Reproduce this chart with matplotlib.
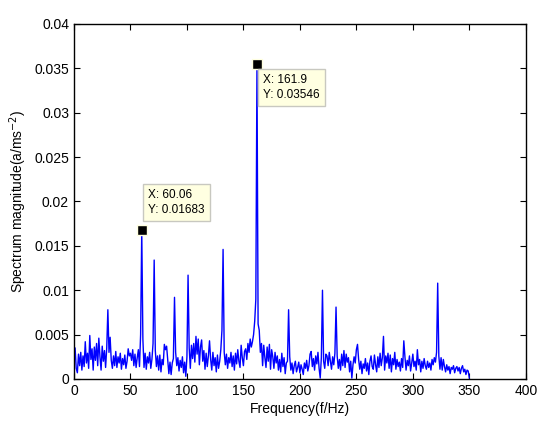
import numpy as np
import matplotlib
matplotlib.use('Agg')
import matplotlib.pyplot as plt

plt.rcParams['font.family'] = ['Liberation Sans', 'DejaVu Sans']

# spectrum magnitude, one value per Hz from 0 to 350 (units of 1e-3)
mag_milli = [
    2.0, 3.5, 1.2, 0.7, 2.8, 1.5, 3.0, 1.0, 2.6, 1.4,
    4.2, 1.8, 2.9, 1.2, 4.9, 2.2, 3.4, 1.0, 3.6, 2.1,
    4.0, 1.5, 4.6, 2.5, 1.0, 3.7, 2.0, 3.2, 1.3, 3.5,
    7.8, 3.0, 4.7, 2.1, 1.2, 2.6, 1.5, 3.1, 1.3, 2.5,
    1.8, 2.9, 1.1, 2.3, 1.6, 2.7, 1.2, 2.0, 3.4, 2.6,
    2.9, 2.1, 3.3, 1.5, 2.8, 1.3, 2.4, 3.3, 1.4, 5.0,
    16.8, 4.5, 1.3, 2.9, 1.1, 2.5, 1.8, 3.0, 1.2, 2.2,
    4.0, 13.4, 3.2, 1.4, 2.6, 1.0, 2.7, 0.8, 2.2, 1.6,
    3.9, 3.3, 3.7, 2.1, 0.6, 1.9, 0.5, 1.8, 2.3, 9.2,
    3.0, 1.5, 2.4, 0.9, 2.1, 1.3, 2.5, 0.7, 1.9, 0.3,
    2.5, 11.7, 3.5, 1.2, 3.8, 2.3, 4.0, 1.9, 4.8, 2.8,
    4.5, 1.6, 3.6, 4.4, 2.0, 3.2, 1.1, 2.9, 1.4, 2.6,
    4.3, 2.2, 1.0, 3.0, 1.5, 2.4, 0.8, 2.7, 1.2, 2.0,
    3.3, 5.5, 14.6, 3.0, 1.6, 2.8, 1.2, 2.4, 1.8, 3.0,
    1.4, 2.6, 1.0, 2.9, 1.7, 3.3, 2.0, 1.3, 3.8, 2.4,
    1.5, 3.1, 3.4, 2.2, 4.0, 3.0, 4.5, 3.6, 4.2, 5.0,
    6.5, 9.0, 35.46, 6.2, 5.5, 3.0, 4.0, 1.5, 3.8, 2.4,
    1.3, 3.6, 2.0, 3.9, 1.1, 3.3, 2.5, 1.2, 3.0, 1.8,
    2.6, 1.0, 2.2, 0.8, 2.9, 1.4, 2.4, 0.6, 1.8, 2.0,
    7.8, 2.5, 1.0, 1.8, 0.6, 1.5, 2.0, 0.8, 1.3, 1.9,
    0.7, 1.6, 1.1, 0.5, 1.8, 1.2, 2.1, 0.9, 1.5, 2.8,
    3.1, 1.4, 2.3, 1.0, 2.6, 1.7, 3.0, 1.2, 0.1, 2.4,
    10.0, 2.0, 1.2, 2.8, 2.6, 1.5, 3.0, 2.0, 1.1, 2.5,
    1.6, 2.9, 8.1, 2.6, 1.2, 2.2, 1.0, 2.8, 1.5, 3.2,
    1.3, 2.8, 1.9, 2.4, 0.8, 2.0, 0.1, 1.6, 2.5, 1.8,
    3.3, 3.9, 2.2, 1.1, 2.0, 0.6, 1.7, 1.2, 2.3, 0.9,
    1.8, 0.5, 2.0, 2.6, 1.4, 1.1, 2.7, 1.6, 0.8, 2.5,
    1.3, 2.9, 1.5, 2.4, 4.8, 1.0, 2.6, 1.8, 2.9, 1.2,
    2.7, 0.8, 2.3, 1.6, 3.0, 1.1, 2.2, 1.4, 1.9, 0.9,
    2.3, 1.3, 4.3, 2.5, 1.0, 2.1, 1.5, 2.6, 0.9, 1.8,
    2.8, 1.4, 2.0, 1.0, 3.3, 1.6, 2.2, 0.8, 2.0, 1.2,
    2.3, 1.5, 1.1, 2.0, 1.3, 1.8, 1.0, 2.2, 1.6, 2.4,
    1.9, 3.0, 10.8, 2.6, 1.1, 2.4, 1.0, 2.2, 1.4, 0.8,
    1.6, 1.0, 1.4, 0.6, 1.3, 1.1, 1.5, 0.7, 1.2, 1.4,
    0.9, 1.3, 0.6, 1.2, 1.5, 0.8, 1.1, 0.5, 1.0, 0.9,
    0.1,
]
freq = np.arange(len(mag_milli))
mag = np.array(mag_milli) / 1000.0

# data tips
tip_x = [60.06, 161.9]
tip_y = [0.01683, 0.03546]
tip_labels = ['X: 60.06\nY: 0.01683', 'X: 161.9\nY: 0.03546']
tip_offsets = [(6, 14), (6, -10)]
tip_va = ['bottom', 'top']

x_ticks = [0, 50, 100, 150, 200, 250, 300, 350, 400]
y_ticks = [0, 0.005, 0.01, 0.015, 0.02, 0.025, 0.03, 0.035, 0.04]
y_tick_labels = ['0', '0.005', '0.01', '0.015', '0.02', '0.025', '0.03', '0.035', '0.04']

fig = plt.figure(figsize=(5.5, 4.29), dpi=100)
ax = fig.add_axes([0.1345, 0.1166, 0.8215, 0.8275])

ax.plot(freq, mag, color='#0000ff', lw=1.0)

for x, y, label, off, va in zip(tip_x, tip_y, tip_labels, tip_offsets, tip_va):
    ax.plot(x, y, 's', ms=7, mfc='black', mec='#ffffe1', mew=1.0, zorder=5)
    ax.annotate(label, xy=(x, y), xytext=off, textcoords='offset pixels',
                ha='left', va=va, fontsize=8.5, linespacing=1.3,
                bbox=dict(boxstyle='square,pad=0.45', fc='#ffffe1', ec='#c8c8c0', lw=1.0),
                zorder=6)

ax.set_xlim(0, 400)
ax.set_ylim(0, 0.04)
ax.set_xticks(x_ticks)
ax.set_yticks(y_ticks)
ax.set_yticklabels(y_tick_labels)
ax.tick_params(direction='in', top=True, right=True, labelsize=10, length=4, width=0.8)
for s in ax.spines.values():
    s.set_linewidth(1.0)

ax.set_xlabel('Frequency(f/Hz)', fontsize=10, labelpad=3)
ax.set_ylabel('Spectrum magnitude(a/ms$^{-2}$)', fontsize=10)
ax.yaxis.set_label_coords(-0.10, 0.5)

fig.savefig('out.png', dpi=100)
